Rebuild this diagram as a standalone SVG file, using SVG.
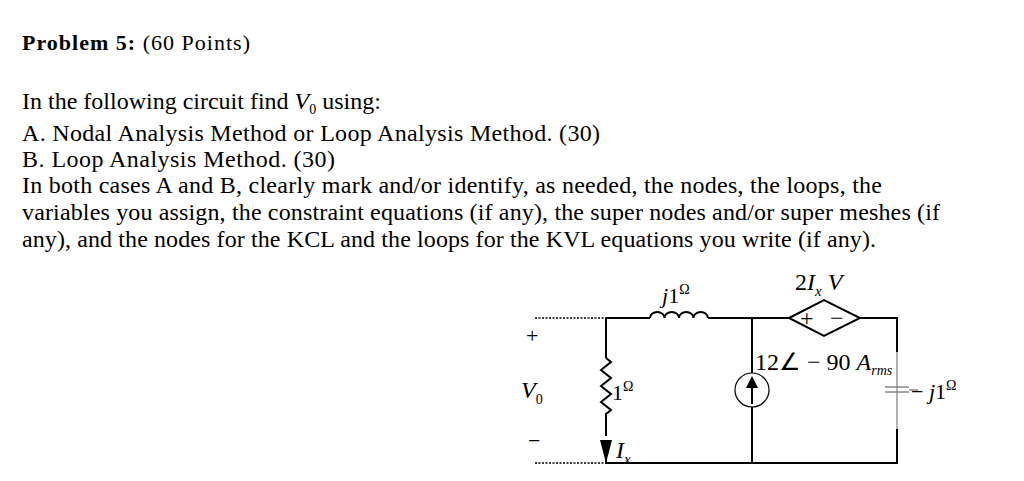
<svg xmlns="http://www.w3.org/2000/svg" width="1024" height="481" viewBox="0 0 1024 481">
<style>
text{font-family:"Liberation Serif",serif;fill:#000}
.t{font-size:24px}
.w{stroke:#000;stroke-width:2;fill:none}
.d{stroke:#000;stroke-width:1.5;stroke-dasharray:2,1.5;fill:none}
.i{font-style:italic}
</style>
<rect width="1024" height="481" fill="#fff"/>
<text x="22" y="50" font-size="22" textLength="228"><tspan font-weight="bold">Problem 5:</tspan> (60 Points)</text>
<text x="22" y="109" class="t">In the following circuit find <tspan class="i">V</tspan><tspan font-size="14" dy="5">0</tspan><tspan dy="-5">  using:</tspan></text>
<text x="22" y="141" class="t" textLength="578">A.  Nodal Analysis Method or Loop Analysis Method. (30)</text>
<text x="22" y="167" class="t" textLength="313">B.  Loop Analysis Method. (30)</text>
<text x="22" y="193" class="t" textLength="860">In both cases A and B, clearly mark and/or identify, as needed,  the nodes, the loops, the</text>
<text x="22" y="220" class="t" textLength="918">variables you assign, the constraint equations (if any), the super nodes and/or super meshes (if</text>
<text x="22" y="247" class="t" textLength="854">any), and the nodes for the KCL and the loops for the KVL equations you write (if any).</text>
<g id="connectors">
<path class="d" d="M535 318H606M535 463H606"/>
<path class="w" d="M606 318H650M708 318H789M860 318H897V352M897 429V463H606V440M606 318V358M752 318V373M752 407V463"/>
<path stroke="#999" stroke-width="1.5" d="M897 352V429"/>
</g>
<g id="inductor"><path class="w" stroke-width="1.5" d="M650 318a7.25 6 0 0 1 14.5 0a7.25 6 0 0 1 14.5 0a7.25 6 0 0 1 14.5 0a7.25 6 0 0 1 14.5 0"/>
<text x="662" y="303" font-size="22"><tspan class="i">j</tspan>1<tspan font-size="14" dy="-9">Ω</tspan></text></g>
<g id="resistor"><path class="w" stroke-width="1.5" d="M606 358l5 4l-10 8l10 8l-10 8l10 8l-10 8l10 8l-5 4v22"/>
<polygon points="600,440 612,440 606,463"/>
<text x="612" y="400" font-size="22">1<tspan font-size="14" dy="-9">Ω</tspan></text>
<text x="616" y="458" font-size="24" class="i">I<tspan font-size="15" dy="6">x</tspan></text></g>
<g id="vccs"><path class="w" d="M789 318L824 300L860 318L824 336Z" stroke-width="1.5"/>
<text x="800" y="326" font-size="24">+</text><text x="830" y="326" font-size="24">−</text>
<text x="795" y="290" font-size="24"><tspan>2</tspan><tspan class="i">I</tspan><tspan class="i" font-size="15" dy="6">x</tspan><tspan class="i" dy="-6"> V</tspan></text></g>
<g id="source"><circle cx="752" cy="390" r="17" fill="#fff" stroke="#000" stroke-width="1.2"/>
<path class="w" d="M752 404V386"/><polygon points="746,388 758,388 752,376"/>
<text x="755" y="370" font-size="24">12∠ − 90  <tspan class="i">A</tspan><tspan class="i" font-size="14" dy="5">rms</tspan></text></g>
<g id="capacitor"><path stroke="#888" stroke-width="1.5" d="M885 387H909M885 392H909M909 390H918"/>
<text x="911" y="399" font-size="22">− <tspan class="i">j</tspan>1<tspan font-size="14" dy="-9">Ω</tspan></text></g>
<g id="vo"><text x="526" y="343" font-size="22">+</text>
<text x="521" y="398" font-size="24" class="i">V<tspan font-size="14" dy="6" font-style="normal">0</tspan></text>
<text x="528" y="448" font-size="22">−</text></g>
</svg>
